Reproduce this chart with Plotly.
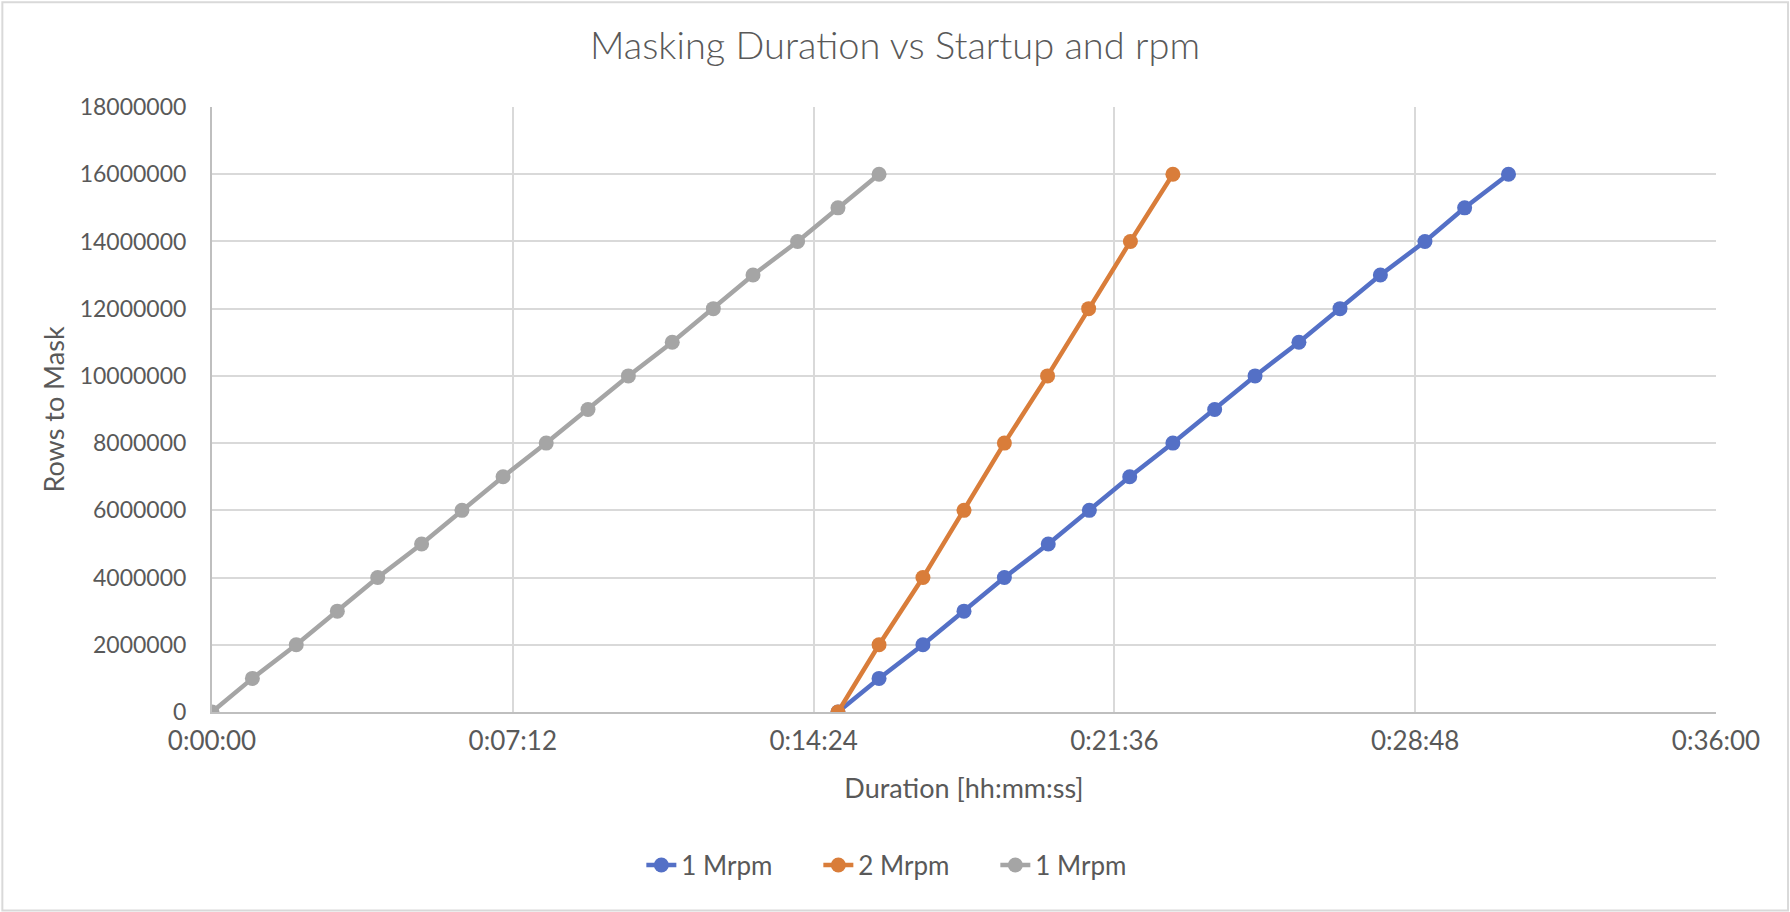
import plotly.graph_objects as go

# Duration in seconds, rows to mask
gray_sec = [0, 58, 121, 180, 238, 301, 359, 418, 480, 540, 598, 661, 720, 777, 841, 899, 958]
gray_rows = [0, 1000000, 2000000, 3000000, 4000000, 5000000, 6000000, 7000000, 8000000,
             9000000, 10000000, 11000000, 12000000, 13000000, 14000000, 15000000, 16000000]

blue_sec = [899, 958, 1021, 1080, 1138, 1201, 1260, 1318, 1380, 1440, 1498, 1561, 1620,
            1678, 1742, 1799, 1862]
blue_rows = [0, 1000000, 2000000, 3000000, 4000000, 5000000, 6000000, 7000000, 8000000,
             9000000, 10000000, 11000000, 12000000, 13000000, 14000000, 15000000, 16000000]

orange_sec = [899, 958, 1021, 1080, 1138, 1200, 1259, 1319, 1380]
orange_rows = [0, 2000000, 4000000, 6000000, 8000000, 10000000, 12000000, 14000000, 16000000]

series_names = ['1 Mrpm', '2 Mrpm', '1 Mrpm']

x_ticks = [0, 432, 864, 1296, 1728, 2160]


def hms(s):
    return f'{s // 3600}:{(s % 3600) // 60:02d}:{s % 60:02d}'


def main():
    font = 'Lato, Carlito, Calibri, sans-serif'
    txt = '#595959'

    fig = go.Figure()
    for xs, ys, name, color in [
        (blue_sec, blue_rows, series_names[0], '#5470C6'),
        (orange_sec, orange_rows, series_names[1], '#D97D3A'),
        (gray_sec, gray_rows, series_names[2], '#A5A5A5'),
    ]:
        fig.add_trace(go.Scatter(
            x=xs, y=ys, name=name, mode='lines+markers',
            line=dict(color=color, width=4.5),
            marker=dict(color=color, size=15),
        ))

    fig.update_layout(
        width=1790, height=912,
        template='plotly_white',
        paper_bgcolor='white', plot_bgcolor='white',
        margin=dict(l=212, r=74, t=107, b=200),
        font=dict(family=font, color=txt, size=23),
        title=dict(text='Masking Duration vs Startup and rpm', x=0.5, xanchor='center',
                   y=1 - 46 / 912, yanchor='middle',
                   font=dict(size=38, color=txt, family=font, weight=300)),
        legend=dict(orientation='h', x=0.462, xanchor='center', y=-0.253, yanchor='middle',
                    font=dict(size=26, color=txt), entrywidth=132, traceorder='normal'),
        showlegend=True,
    )
    fig.update_xaxes(
        range=[0, 2160], tickvals=x_ticks, ticktext=[hms(t) for t in x_ticks],
        tickfont=dict(size=26),
        showgrid=True, gridcolor='#D9D9D9', gridwidth=2,
        showline=True, linecolor='#BFBFBF', linewidth=2, zeroline=False,
        ticks='', ticklabelstandoff=5,
        title=dict(text='Duration [hh:mm:ss]', font=dict(size=27, color=txt), standoff=24),
        automargin=False,
    )
    fig.update_yaxes(
        range=[0, 18000000], dtick=2000000, tickformat='d',
        showgrid=True, gridcolor='#D9D9D9', gridwidth=2,
        showline=True, linecolor='#BFBFBF', linewidth=2, zeroline=False,
        ticks='', ticklabelstandoff=19,
        title=dict(text='Rows to Mask', font=dict(size=27, color=txt), standoff=7),
        automargin=False,
    )
    # chart area border
    fig.add_shape(type='rect', xref='paper', yref='paper',
                  x0=-0.1394, x1=1.0479, y0=-0.328, y1=1.173,
                  line=dict(color='#D9D9D9', width=2), layer='below')

    # page body has a default 8px margin; drop it so the chart sits at 0,0
    fig.write_html('out.html', config={'displayModeBar': False},
                   post_script="document.body.style.margin='0';")


if __name__ == "__main__":
    main()
